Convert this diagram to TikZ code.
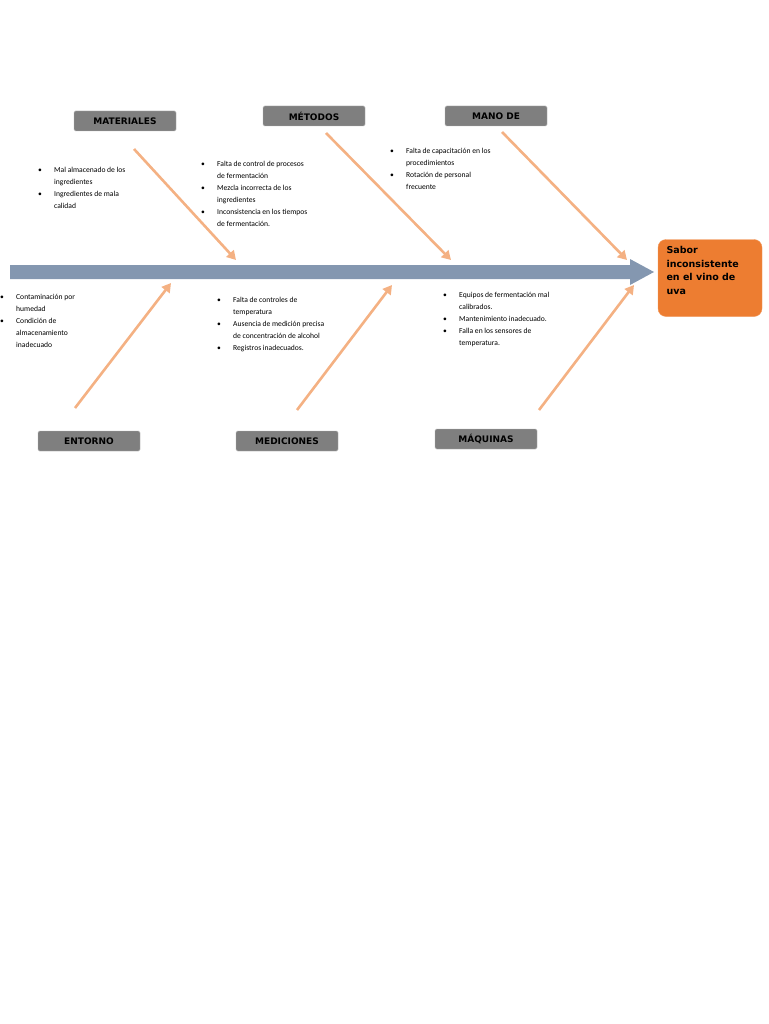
\documentclass[tikz,border=0pt]{standalone}
\usepackage{fontspec}
\setmainfont{Carlito}
\newfontfamily\labelfont{DejaVu Sans}
\usetikzlibrary{arrows.meta}
\definecolor{spine}{HTML}{8497B0}
\definecolor{bone}{HTML}{F4B183}
\definecolor{effect}{HTML}{ED7D31}
\definecolor{tag}{HTML}{7F7F7F}
\newcommand{\causes}[1]{{\fontsize{7.6}{12}\selectfont
  \begin{tabular}{@{}p{16pt}@{}l@{}}#1\end{tabular}}}
\tikzset{
  category/.style={fill=tag, draw=gray!60, rounded corners=1.5pt, minimum width=102pt,
    minimum height=20pt, font=\labelfont\bfseries\fontsize{9}{10}\selectfont, inner sep=0pt},
  bone/.style={draw=bone, line width=2.6pt, -{Triangle[length=9pt,width=10pt]}},
  notes/.style={anchor=north west, inner sep=0pt}
}
\begin{document}
\begin{tikzpicture}[x=1pt,y=-1pt]
    \useasboundingbox (0,0) rectangle (768,1024);
    % spine and effect
    \coordinate (tail) at (10,272);
    \coordinate (head) at (654,272);
    \fill [spine] (10,265) -- (630,265) -- (630,259) -- (654,272) -- (630,285) -- (630,279) -- (10,279) -- cycle;
    \node [fill=effect, draw=effect!80!white, rounded corners=8pt, minimum width=104pt, minimum height=77pt,
      inner sep=0pt] (effect) at (710,278) {};
    \node [anchor=north west, align=left, font=\labelfont\bfseries\fontsize{9.5}{13.5}\selectfont]
      (effecttext) at (663,243) {Sabor\\inconsistente\\en el vino de\\uva};
    % categories
    \node [category] (mat) at (125,121) {MATERIALES};
    \node [category] (met) at (314,116) {MÉTODOS};
    \node [category] (man) at (496,116) {MANO DE};
    \node [category] (ent) at (89,441) {ENTORNO};
    \node [category] (med) at (287,441) {MEDICIONES};
    \node [category] (maq) at (486,439) {MÁQUINAS};
    % bones
    \coordinate (m1s) at (134,149); \coordinate (m1e) at (236,260);
    \coordinate (m2s) at (326,133); \coordinate (m2e) at (451,260);
    \coordinate (m3s) at (502,132); \coordinate (m3e) at (627,260);
    \coordinate (b1s) at (75,408);  \coordinate (b1e) at (171,283);
    \coordinate (b2s) at (297,410); \coordinate (b2e) at (392,285);
    \coordinate (b3s) at (539,410); \coordinate (b3e) at (634,285);
    \foreach \s/\e in {m1s/m1e, m2s/m2e, m3s/m3e, b1s/b1e, b2s/b2e, b3s/b3e}
      \draw [bone] (\s) -- (\e);
    % causes
    \node [notes] (matc) at (38,164) {\causes{\textbullet & Mal almacenado de los\\ & ingredientes\\
      \textbullet & Ingredientes de mala\\ & calidad}};
    \node [notes] (metc) at (201,158) {\causes{\textbullet & Falta de control de procesos\\ & de fermentación\\
      \textbullet & Mezcla incorrecta de los\\ & ingredientes\\
      \textbullet & Inconsistencia en los tiempos\\ & de fermentación.}};
    \node [notes] (manc) at (390,145) {\causes{\textbullet & Falta de capacitación en los\\ & procedimientos\\
      \textbullet & Rotación de personal\\ & frecuente}};
    \node [notes] (entc) at (0,291) {\causes{\textbullet & Contaminación por\\ & humedad\\
      \textbullet & Condición de\\ & almacenamiento\\ & inadecuado}};
    \node [notes] (medc) at (217,294) {\causes{\textbullet & Falta de controles de\\ & temperatura\\
      \textbullet & Ausencia de medición precisa\\ & de concentración de alcohol\\
      \textbullet & Registros inadecuados.}};
    \node [notes] (maqc) at (443,289) {\causes{\textbullet & Equipos de fermentación mal\\ & calibrados.\\
      \textbullet & Mantenimiento inadecuado.\\
      \textbullet & Falla en los sensores de\\ & temperatura.}};
\end{tikzpicture}
\end{document}
